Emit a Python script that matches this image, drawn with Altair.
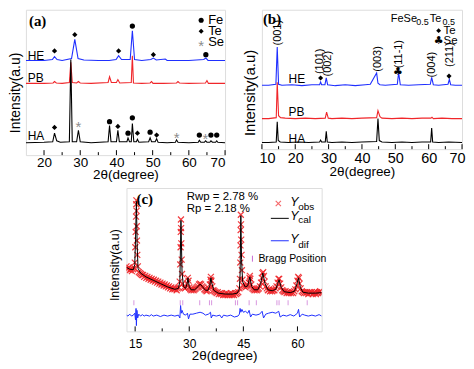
import altair as alt
import pandas as pd

FONT = "Liberation Sans"
SERIF = "Liberation Serif"
SYM = "DejaVu Sans"
BLUE = "#1f2fff"
RED = "#f0262a"
BLACK = "#000000"
GRAY = "#8c8c8c"
PURPLE = "#c86bd2"

# ---------------- panel (a) data ----------------
A_NAMES = ["HE", "PB", "HA"]
A_HE_X = [15, 20, 22.3, 22.9, 23.6, 25, 27.6, 28.5, 29.4, 31, 35, 38, 39.9, 40.6, 41.4, 43.8, 44.4, 45.0, 47, 49.5, 50.2, 51.0, 53.5, 54, 57, 60, 64.1, 64.7, 65.3, 68, 70]
A_HE_Y = [99, 99, 100, 103, 100, 99, 101, 121, 101, 99.5, 99, 99, 100, 104, 100, 100, 130, 100, 99, 100, 101.5, 99.5, 100.5, 99, 99, 99, 100, 101.5, 99, 99, 99]
A_PB_X = [15, 20, 22.5, 22.9, 23.4, 25, 27.0, 27.4, 27.8, 29, 29.5, 30, 33, 37.7, 38.1, 38.6, 40.0, 40.4, 40.9, 44.1, 44.4, 44.7, 47, 49.3, 49.7, 50.1, 53, 56.6, 57, 57.4, 60, 64.6, 65.0, 65.4, 70]
A_PB_Y = [75, 75, 75.5, 77, 75.5, 75, 76, 97, 76, 75.5, 77, 75.5, 75, 76, 82, 76, 76, 79, 75.5, 76, 104, 75.5, 75, 75.5, 77, 75, 75, 75.5, 77, 75.5, 75, 75.5, 78, 75, 75]
A_HA_X = [15, 20, 22.4, 22.9, 23.5, 24.5, 27.0, 27.4, 27.8, 29.0, 29.5, 30.0, 33, 37.7, 38.1, 38.5, 40.0, 40.4, 40.8, 42.9, 43.2, 43.6, 44.1, 44.4, 44.8, 45.5, 45.8, 46.2, 48.9, 49.3, 49.7, 50.7, 51.1, 51.5, 54, 56.3, 56.6, 57.0, 60, 62.6, 62.9, 63.3, 64.3, 64.6, 65.0, 65.8, 66.1, 66.5, 67.4, 67.7, 68.0, 70]
A_HA_Y = [13, 13.5, 14, 23, 15, 13.5, 14, 100, 14, 14, 26, 14, 13, 14, 31, 14, 14, 26, 14, 14, 18, 14, 14, 33, 14, 14, 16.5, 13.5, 14, 18, 14, 14, 17, 13.5, 13, 13.5, 16, 13.5, 13, 13.5, 15.5, 13.5, 13.5, 15, 13.5, 13.5, 15, 13.5, 13.5, 15, 13.5, 13]
A_MK_X = [22.9, 28.5, 40.6, 44.4, 50.2, 64.7, 22.9, 29.5, 38.1, 40.4, 43.2, 44.4, 45.8, 49.3, 51.1, 56.6, 62.9, 64.6, 66.1, 67.7]
A_MK_Y = [109, 126, 109, 135, 105, 105, 29, 34, 35, 30, 23, 39, 23, 24, 21, 22, 21, 21, 21, 21]
A_MK_K = ["Te", "Te", "Te", "Fe", "Te", "Fe", "Te", "Se", "Fe", "Te", "Fe", "Fe", "Te", "Fe", "Te", "Se", "Fe", "Se", "Fe", "Fe"]
A_LAB_Y = [104, 80.3, 19.7]
A_TICKS = [20, 30, 40, 50, 60, 70]
A_MINOR = [25, 35, 45, 55, 65]

# ---------------- panel (b) data ----------------
B_HE_X = [10, 12, 14.2, 14.6, 15.0, 16, 19, 22, 25, 27.3, 27.6, 27.9, 28.9, 29.3, 29.7, 32, 35, 38, 41, 42.5, 44.4, 44.8, 45.4, 47, 50.6, 51.0, 51.5, 54, 57, 60.5, 60.9, 61.4, 63, 65.8, 66.2, 66.6, 68, 70]
B_HE_Y = [67, 67, 68, 107, 68, 67, 67.5, 66.5, 67.5, 67.5, 70.3, 67.5, 67.5, 74.7, 67.5, 66.5, 67.5, 66.5, 67.5, 68, 79.7, 69, 67.5, 67, 68, 80.3, 67.5, 67, 67.5, 68, 75.3, 67.5, 67, 68, 73, 67.5, 67, 67]
B_PB_X = [10, 12, 14.3, 14.6, 15.0, 15.6, 17, 20, 23, 26, 29.0, 29.4, 29.9, 31, 34, 37, 40, 44.4, 44.8, 45.4, 46, 49, 52, 55, 58, 60.7, 61.0, 61.4, 64, 67, 70]
B_PB_Y = [32, 32, 33, 70, 35, 33, 32.5, 32, 32.5, 32, 32.5, 38.7, 32.5, 32, 32.5, 32, 32.5, 33, 40.3, 34, 32.5, 32, 32.5, 32, 32.5, 32.5, 33.5, 32, 32.5, 32, 32]
B_HA_X = [10, 12, 14.3, 14.6, 14.9, 15.5, 18, 21, 24, 27.3, 27.6, 27.9, 29.0, 29.3, 29.6, 31, 34, 37, 40, 44.4, 44.8, 45.2, 46, 49, 52, 55, 58, 60.6, 60.9, 61.2, 63, 66, 70]
B_HA_Y = [7, 7, 7.5, 28.7, 9, 7.5, 7, 7.5, 7, 7.5, 9.5, 7.5, 7.5, 18.7, 7.5, 7, 7.5, 7, 7.5, 8, 32, 9, 7.5, 7, 7.5, 7, 7.5, 7.5, 22, 7.5, 7, 7.5, 7]
B_HKL = ["(001)", "(101)", "(002)", "(003)", "(11-1)", "(004)", "(211)"]
B_HKL_X = [14.9, 27.3, 29.8, 44.8, 51.1, 61.0, 66.4]
B_HKL_Y = [122, 92, 89.5, 94.5, 99.5, 88.5, 99]
B_TE_X = [27.6, 66.1]
B_TE_Y = [74.5, 76.5]
B_SE_X = [50.8]
B_SE_Y = [81]
B_LAB_Y = [73.7, 38.7, 10.3]
B_TICKS = [10, 20, 30, 40, 50, 60, 70]
B_MINOR = [15, 25, 35, 45, 55, 65]

# ---------------- panel (c) data ----------------
C_OBS = [(12.6,68),(12.9,65),(13.2,67),(13.5,64),(13.8,65),(14.1,63),(14.4,65),(14.7,66),(14.9,72),(15.05,88),(15.15,104),(15.25,120),(15.3,133),(15.35,137),(15.4,126),(15.45,110),(15.5,95),(15.6,80),(15.75,68),(16.0,62),(16.3,61),(16.6,60),(16.9,59),(17.2,59),(17.5,57),(17.8,58),(18.1,56),(18.4,57),(18.7,55),(19.0,56),(19.3,54),(19.6,55),(19.9,53),(20.2,54),(20.5,52),(20.8,53),(21.1,51),(21.4,52),(21.7,50),(22.0,51),(22.3,49),(22.6,50),(22.9,48),(23.2,49),(23.5,47),(23.8,48),(24.1,46),(24.4,47),(24.7,45),(25.0,46),(25.3,44),(25.6,45),(25.9,44),(26.2,45),(26.5,43),(26.8,45),(27.1,46),(27.35,52),(27.5,70),(27.6,88),(27.65,104),(27.7,117),(27.75,108),(27.8,92),(27.9,75),(28.0,60),(28.2,50),(28.5,46),(28.8,45),(29.1,46),(29.4,50),(29.6,56),(29.8,53),(30.0,46),(30.3,44),(30.6,43),(30.9,44),(31.2,43),(31.5,44),(31.8,45),(32.1,46),(32.4,47),(32.7,49),(33.0,50),(33.3,49),(33.6,47),(33.9,46),(34.2,44),(34.5,43),(34.8,42),(35.1,43),(35.4,45),(35.7,49),(35.9,54),(36.0,57),(36.15,53),(36.4,47),(36.7,43),(37.0,42),(37.3,41),(37.6,40),(37.9,41),(38.2,39),(38.5,40),(38.8,39),(39.1,40),(39.4,38),(39.7,39),(40.0,38),(40.3,40),(40.6,38),(40.9,39),(41.2,38),(41.5,40),(41.8,38),(42.1,39),(42.4,38),(42.7,40),(43.0,39),(43.3,40),(43.6,41),(43.9,45),(44.05,55),(44.15,72),(44.2,90),(44.25,106),(44.3,122),(44.35,112),(44.4,96),(44.5,80),(44.6,64),(44.75,54),(45.0,48),(45.3,47),(45.6,46),(45.9,47),(46.2,48),(46.5,51),(46.7,56),(46.8,58),(46.95,55),(47.2,49),(47.5,45),(47.8,44),(48.1,43),(48.4,44),(48.7,43),(49.0,44),(49.3,45),(49.6,47),(49.9,51),(50.1,56),(50.3,61),(50.5,62),(50.7,58),(50.9,52),(51.2,47),(51.5,45),(51.8,43),(52.1,44),(52.4,42),(52.7,43),(53.0,42),(53.3,43),(53.6,43),(53.9,45),(54.2,47),(54.5,51),(54.75,55),(54.95,55),(55.2,50),(55.5,46),(55.8,43),(56.1,42),(56.4,41),(56.7,42),(57.0,40),(57.3,41),(57.6,40),(57.9,41),(58.2,40),(58.5,41),(58.8,40),(59.1,42),(59.4,44),(59.7,48),(60.0,53),(60.2,57),(60.4,56),(60.6,50),(60.9,45),(61.2,42),(61.5,41),(61.8,40),(62.1,41),(62.4,40),(62.7,41),(63.0,39),(63.3,41),(63.6,40),(63.9,41),(64.2,39),(64.5,40),(64.8,41),(65.1,39),(65.4,41),(65.7,40),(66.0,41),(66.3,42),(66.6,40)]
C_CAL = [(12.6,67),(13.5,65),(14.5,64.5),(14.9,70),(15.1,96),(15.35,136),(15.55,92),(15.8,66),(16.5,61),(18,57),(20,53.5),(22,50),(24,46.5),(26,44),(27,45),(27.4,52),(27.7,116),(28.0,62),(28.4,47),(29.0,45),(29.4,50),(29.65,56),(30.0,47),(30.5,43.5),(31.5,43.5),(32.5,47),(33.0,49.5),(33.6,47),(34.5,43),(35.2,43),(35.7,48),(36.0,56),(36.3,50),(36.8,43),(38,40),(40,39),(42,39),(43.3,40),(43.9,44),(44.1,60),(44.3,121),(44.5,75),(44.8,52),(45.5,46.5),(46.2,47.5),(46.8,57),(47.3,47),(48.0,43.5),(49.0,43.5),(49.8,50),(50.4,61),(51.0,50),(51.8,43.5),(53.0,42.5),(54.0,44),(54.5,50),(54.9,54),(55.5,46),(56.3,41.5),(58,40.5),(59.2,42),(59.8,49),(60.3,56),(60.8,46),(61.5,41),(63,40),(65,40),(66.7,40.5)]
C_DIF = [(12.6,17),(13.0,16),(13.5,18),(14.0,16),(14.5,17),(14.9,19),(15.1,12),(15.25,24),(15.35,6),(15.5,22),(15.7,14),(16.0,18),(16.5,16),(17.0,17.5),(17.5,16),(18.0,17),(19.0,16),(19.5,17.5),(20.0,16),(21.0,17),(22.0,15.5),(23.0,17),(24.0,16),(25.0,17),(26.0,16),(27.0,17),(27.4,14),(27.6,27),(27.8,19),(28.0,22),(28.4,18),(29.0,17),(29.5,19),(29.8,13),(30.2,18),(31.0,18),(32.0,19),(33.0,20),(33.8,19),(34.5,17),(35.3,18),(35.9,20),(36.1,14),(36.5,17),(37.5,16),(38.5,17),(39.0,14),(39.5,17),(40.5,16),(41.5,17),(42.5,15),(43.5,16),(43.9,18),(44.1,24),(44.3,20),(44.6,23),(45.0,20),(45.6,21),(46.2,19),(46.6,22),(47.0,15),(47.5,18),(48.5,17),(49.5,18),(50.2,21),(50.6,14),(51.2,18),(52.0,19),(53.0,20),(54.0,19),(54.8,21),(55.2,15),(56.0,17),(57.0,16),(58.0,17.5),(59.0,16),(60.0,19),(60.3,23),(60.6,15),(61.3,18),(62.0,17),(63.0,16),(64.0,17),(65.0,16),(66.0,17.5),(66.7,16)]
C_BRAGG = [14.65, 27.5, 28.2, 32.9, 35.6, 36.2, 42.8, 43.4, 46.6, 48.6, 54.3, 54.9, 57.4, 62.7]
C_BRAGG_LEVEL = 30
C_TICKS = [15, 30, 45, 60]
C_MINOR = [22.5, 37.5, 52.5]

# ---------------- layout ----------------
A_W, A_H = 200, 146
B_W, B_H = 201, 140
C_W, C_H = 196, 144
H_SPACE, V_SPACE, C_SHIFT = 37, 2, 101

ONE = pd.DataFrame({"o": [0]})


def txt(s, px, py, size=12, align="left", font=FONT, weight="normal", color="black",
        style="normal", angle=0, baseline="middle"):
    return alt.Chart(ONE).mark_text(
        text=s, align=align, baseline=baseline, font=font, fontSize=size,
        fontWeight=weight, color=color, fontStyle=style, angle=angle
    ).encode(x=alt.value(px), y=alt.value(py))


def sym(shape, px, py, size=30, color="black"):
    return alt.Chart(ONE).mark_point(shape=shape, filled=True, size=size, color=color,
                                     opacity=1).encode(x=alt.value(px), y=alt.value(py))


def long_df(names, xs, ys):
    rows = []
    for n, xx, yy in zip(names, xs, ys):
        for a, b in zip(xx, yy):
            rows.append({"x": a, "y": b, "s": n})
    return pd.DataFrame(rows)


def xaxis(values, lsize, tsize, lpad, tpad, flush=False):
    kw = dict(values=values, format="d", title="2θ(degree)", labelFontSize=lsize,
              titleFontSize=tsize, labelPadding=lpad, titlePadding=tpad,
              labelColor="black", titleColor="black", labelFont=FONT, titleFont=FONT,
              titleFontWeight="normal", ticks=False, domain=False, grid=False)
    if flush:
        kw["labelFlush"] = True
        kw["labelFlushOffset"] = 3
    return alt.Axis(**kw)


def yaxis(tsize, tpad, ty):
    return alt.Axis(labels=False, ticks=False, domain=False, grid=False,
                    title="Intensity(a.u)", titleFontSize=tsize, titlePadding=tpad,
                    titleY=ty, titleFont=FONT, titleFontWeight="normal", titleColor="black")


def tick_layers(xenc, major, minor, h):
    maj = alt.Chart(pd.DataFrame({"t": major})).mark_rule(color="black", strokeWidth=1).encode(
        x=xenc("t"), y=alt.value(h), y2=alt.value(h - 5))
    mnr = alt.Chart(pd.DataFrame({"t": minor})).mark_rule(color="black", strokeWidth=1).encode(
        x=xenc("t"), y=alt.value(h), y2=alt.value(h - 3))
    return [maj, mnr]


color_enc = alt.Color("s:N", scale=alt.Scale(domain=A_NAMES, range=[BLUE, RED, BLACK]), legend=None)

# ---------------- panel (a) ----------------
ax_a = xaxis(A_TICKS, 13.5, 13.5, 0, -1)
ay_a = yaxis(14, 3, 83)
xa = lambda f: alt.X(f"{f}:Q", scale=alt.Scale(domain=[15, 70], nice=False), axis=ax_a)
ya = lambda f: alt.Y(f"{f}:Q", scale=alt.Scale(domain=[0, 152], nice=False), axis=ay_a)

a_df = long_df(A_NAMES, [A_HE_X, A_PB_X, A_HA_X], [A_HE_Y, A_PB_Y, A_HA_Y])
a_mk = pd.DataFrame({"x": A_MK_X, "y": A_MK_Y, "k": A_MK_K})
a_lab = pd.DataFrame({"x": [15.5] * 3, "y": A_LAB_Y, "t": A_NAMES})

a_layers = [
    alt.Chart(a_df).mark_line(strokeWidth=1.1, clip=True).encode(x=xa("x"), y=ya("y"), color=color_enc),
    alt.Chart(a_mk[a_mk.k != "Se"]).mark_point(filled=True, size=28, color="black", opacity=1).encode(
        x=xa("x"), y=ya("y"),
        shape=alt.Shape("k:N", scale=alt.Scale(domain=["Fe", "Te"], range=["circle", "diamond"]), legend=None)),
    alt.Chart(a_mk[a_mk.k == "Se"]).mark_text(text="*", fontSize=15, color=GRAY, font=FONT, dy=4).encode(
        x=xa("x"), y=ya("y")),
    alt.Chart(a_lab).mark_text(align="left", fontSize=12, font=FONT, color="black").encode(
        x=xa("x"), y=ya("y"), text="t:N"),
] + tick_layers(xa, A_TICKS, A_MINOR, A_H) + [
    txt("(a)", 3, 11, 15, font=SERIF, weight="bold"),
    sym("circle", 176, 10.5, 26),
    sym("diamond", 176, 21.5, 26),
    txt("*", 176, 36, 15, align="center", color=GRAY),
    txt("Fe", 183, 10.5, 13),
    txt("Te", 183, 21.5, 13),
    txt("Se", 183, 32.5, 13),
]
panel_a = alt.layer(*a_layers).properties(width=A_W, height=A_H)

# ---------------- panel (b) ----------------
ax_b = xaxis(B_TICKS, 14.5, 13.5, 2, 0, flush=True)
ay_b = yaxis(15, 4, 83)
xb = lambda f: alt.X(f"{f}:Q", scale=alt.Scale(domain=[10, 70], nice=False), axis=ax_b)
yb = lambda f: alt.Y(f"{f}:Q", scale=alt.Scale(domain=[0, 146], nice=False), axis=ay_b)

b_df = long_df(A_NAMES, [B_HE_X, B_PB_X, B_HA_X], [B_HE_Y, B_PB_Y, B_HA_Y])
b_hkl = pd.DataFrame({"x": B_HKL_X, "y": B_HKL_Y, "t": B_HKL})
b_te = pd.DataFrame({"x": B_TE_X, "y": B_TE_Y})
b_se = pd.DataFrame({"x": B_SE_X, "y": B_SE_Y})
b_lab = pd.DataFrame({"x": [18.0] * 3, "y": B_LAB_Y, "t": A_NAMES})

b_layers = [
    alt.Chart(b_df).mark_line(strokeWidth=1.1, clip=True).encode(x=xb("x"), y=yb("y"), color=color_enc),
    alt.Chart(b_hkl).mark_text(angle=270, fontSize=11, font=FONT, color="black", baseline="middle").encode(
        x=xb("x"), y=yb("y"), text="t:N"),
    alt.Chart(b_te).mark_point(shape="diamond", filled=True, size=26, color="black", opacity=1).encode(
        x=xb("x"), y=yb("y")),
    alt.Chart(b_se).mark_text(text="♣", fontSize=11, font=SYM, color="black").encode(x=xb("x"), y=yb("y")),
    alt.Chart(b_lab).mark_text(align="left", fontSize=12, font=FONT, color="black").encode(
        x=xb("x"), y=yb("y"), text="t:N"),
] + tick_layers(xb, B_TICKS, B_MINOR, B_H) + [
    txt("(b)", 1, 9, 15, font=SERIF, weight="bold"),
    txt("FeSe", 129.5, 9, 11),
    txt("0.5", 155, 12.5, 9),
    txt("Te", 168.5, 9, 11),
    txt("0.5", 181.5, 12.5, 9),
    sym("diamond", 177.5, 21, 24),
    txt("♣", 177.5, 31, 11, align="center", font=SYM),
    txt("Te", 182.5, 21, 11.5),
    txt("Se", 182.5, 31, 11.5),
]
panel_b = alt.layer(*b_layers).properties(width=B_W, height=B_H)

# ---------------- panel (c) ----------------
ax_c = xaxis(C_TICKS, 12, 13.5, 7, -1)
ay_c = yaxis(12.5, 5, 77)
xc = lambda f: alt.X(f"{f}:Q", scale=alt.Scale(domain=[12.6, 66.7], nice=False), axis=ax_c)
yc = lambda f: alt.Y(f"{f}:Q", scale=alt.Scale(domain=[0, 150], nice=False), axis=ay_c)

c_obs = pd.DataFrame(C_OBS, columns=["x", "y"])
c_cal = pd.DataFrame(C_CAL, columns=["x", "y"])
c_dif = pd.DataFrame(C_DIF, columns=["x", "y"])
c_bragg = pd.DataFrame({"x": C_BRAGG})
XSHAPE = "M-1,-1L1,1M-1,1L1,-1"

c_layers = [
    alt.Chart(c_obs).mark_point(shape=XSHAPE, size=36, color=RED, strokeWidth=1.2, opacity=0.9, clip=True).encode(
        x=xc("x"), y=yc("y")),
    alt.Chart(c_cal).mark_line(color="black", strokeWidth=1, clip=True).encode(x=xc("x"), y=yc("y")),
    alt.Chart(c_bragg).mark_tick(color=PURPLE, size=5, thickness=1).encode(
        x=xc("x"), y=alt.datum(C_BRAGG_LEVEL)),
    alt.Chart(c_dif).mark_line(color=BLUE, strokeWidth=1, clip=True).encode(x=xc("x"), y=yc("y")),
] + tick_layers(xc, C_TICKS, C_MINOR, C_H) + [
    txt("(c)", 10, 11, 15, font=SERIF, weight="bold"),
    txt("Rwp = 2.78 %", 60.5, 9.5, 11.5),
    txt("Rp = 2.18 %", 60.5, 21, 11.5),
    alt.Chart(ONE).mark_point(shape=XSHAPE, size=28, color=RED, strokeWidth=1.1).encode(
        x=alt.value(152.5), y=alt.value(15.5)),
    txt("Y", 164.5, 14.5, 12.5, style="italic"),
    txt("obs", 172.5, 19.5, 10),
    alt.Chart(ONE).mark_rule(color="black", strokeWidth=1).encode(
        x=alt.value(145), x2=alt.value(163), y=alt.value(30.5)),
    txt("Y", 164.5, 28.5, 12.5, style="italic"),
    txt("cal", 172.5, 32.5, 10),
    alt.Chart(ONE).mark_rule(color=BLUE, strokeWidth=1).encode(
        x=alt.value(145), x2=alt.value(163), y=alt.value(53)),
    txt("Y", 164.5, 51, 12.5, style="italic"),
    txt("dif", 172.5, 57, 10),
    alt.Chart(ONE).mark_rule(color=PURPLE, strokeWidth=1).encode(
        x=alt.value(126.5), y=alt.value(68), y2=alt.value(74)),
    txt("Bragg Position", 132.5, 71, 10.5),
]
panel_c = alt.layer(*c_layers).properties(width=C_W, height=C_H)

spacer = alt.Chart(ONE).mark_point(opacity=0).encode(
    x=alt.value(0), y=alt.value(0)
).properties(width=C_SHIFT, height=10, view=alt.ViewBackground(stroke="transparent"))

top = alt.hconcat(panel_a, panel_b, spacing=H_SPACE, bounds="flush")
bottom = alt.hconcat(spacer, panel_c, spacing=0, bounds="flush")
chart = alt.vconcat(top, bottom, spacing=V_SPACE, padding=0).configure_view(
    stroke="black", strokeWidth=1.2
).configure(background="white")

chart.save("out.html", embed_options={"renderer": "svg", "actions": False})
